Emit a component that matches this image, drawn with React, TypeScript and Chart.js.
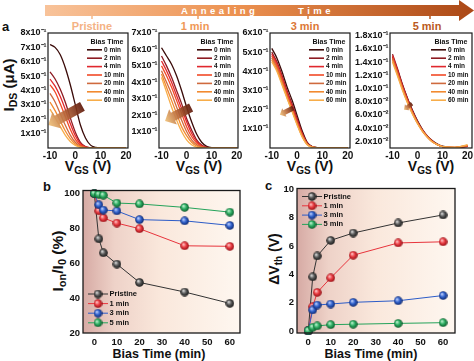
import React, { useEffect, useRef } from 'react';
import { Chart, registerables } from 'chart.js';

Chart.register(...registerables);

const FONT = '"Liberation Sans", Arial, Helvetica, sans-serif';

// ---------------- panel a : transfer curves ----------------
const VGS = [-10, -8, -6, -4, -2, 0, 2, 4, 6, 8, 10, 15, 20];
const BIAS_LABELS = ['0 min', '2 min', '4 min', '10 min', '20 min', '40 min', '60 min'];
const BIAS_COLORS = ['#3a0a08', '#8e1b22', '#e0282e', '#f24a26', '#cf6a3e', '#f28a30', '#f7ad4a'];
const STAGES = ['Pristine', '1 min', '3 min', '5 min'];
const STAGE_COLORS = ['#f4b284', '#ef9856', '#dc7836', '#ba5922'];

const IDS_PRISTINE = [
  [0.72, 0.70, 0.65, 0.56, 0.44, 0.30, 0.16, 0.07, 0.02, 0.005, 0.001, 0, 0],
  [0.53, 0.48, 0.41, 0.32, 0.21, 0.11, 0.04, 0.01, 0.002, 0, 0, 0, 0],
  [0.48, 0.43, 0.36, 0.27, 0.17, 0.085, 0.03, 0.008, 0.001, 0, 0, 0, 0],
  [0.44, 0.39, 0.31, 0.22, 0.13, 0.06, 0.02, 0.005, 0.001, 0, 0, 0, 0],
  [0.38, 0.32, 0.24, 0.16, 0.09, 0.04, 0.012, 0.003, 0, 0, 0, 0, 0],
  [0.32, 0.26, 0.19, 0.12, 0.065, 0.028, 0.008, 0.002, 0, 0, 0, 0, 0],
  [0.27, 0.21, 0.15, 0.09, 0.045, 0.018, 0.005, 0.001, 0, 0, 0, 0, 0],
];
const IDS_1MIN = [
  [0.61, 0.56, 0.51, 0.44, 0.35, 0.25, 0.16, 0.085, 0.035, 0.01, 0.002, 0, 0],
  [0.56, 0.50, 0.43, 0.35, 0.27, 0.18, 0.11, 0.05, 0.018, 0.004, 0, 0, 0],
  [0.53, 0.47, 0.40, 0.32, 0.24, 0.16, 0.09, 0.04, 0.013, 0.003, 0, 0, 0],
  [0.50, 0.44, 0.37, 0.29, 0.21, 0.13, 0.07, 0.03, 0.009, 0.002, 0, 0, 0],
  [0.47, 0.40, 0.33, 0.25, 0.17, 0.10, 0.05, 0.02, 0.005, 0.001, 0, 0, 0],
  [0.45, 0.37, 0.29, 0.21, 0.13, 0.075, 0.035, 0.012, 0.003, 0, 0, 0, 0],
  [0.43, 0.34, 0.25, 0.17, 0.10, 0.05, 0.02, 0.006, 0.001, 0, 0, 0, 0],
];
const IDS_3MIN = [
  [0.52, 0.47, 0.40, 0.32, 0.25, 0.17, 0.09, 0.03, 0.008, 0.002, 0, 0, 0],
  [0.50, 0.45, 0.38, 0.30, 0.23, 0.155, 0.08, 0.026, 0.007, 0.001, 0, 0, 0],
  [0.49, 0.44, 0.37, 0.29, 0.22, 0.145, 0.075, 0.024, 0.006, 0.001, 0, 0, 0],
  [0.48, 0.43, 0.36, 0.28, 0.21, 0.135, 0.07, 0.022, 0.005, 0.001, 0, 0, 0],
  [0.47, 0.42, 0.35, 0.27, 0.20, 0.13, 0.065, 0.02, 0.005, 0.001, 0, 0, 0],
  [0.46, 0.41, 0.34, 0.265, 0.195, 0.125, 0.06, 0.018, 0.004, 0.001, 0, 0, 0],
  [0.45, 0.40, 0.33, 0.26, 0.19, 0.12, 0.058, 0.017, 0.004, 0.001, 0, 0, 0],
];
const IDS_5MIN = [
  [0.148, 0.128, 0.105, 0.085, 0.067, 0.051, 0.038, 0.028, 0.021, 0.016, 0.013, 0.0105, 0.013],
  [0.152, 0.130, 0.106, 0.085, 0.066, 0.050, 0.037, 0.027, 0.020, 0.015, 0.012, 0.0105, 0.012],
  [0.150, 0.127, 0.103, 0.083, 0.065, 0.049, 0.037, 0.027, 0.020, 0.015, 0.012, 0.0105, 0.013],
  [0.147, 0.125, 0.102, 0.082, 0.064, 0.049, 0.036, 0.027, 0.020, 0.015, 0.012, 0.011, 0.013],
  [0.145, 0.123, 0.100, 0.080, 0.063, 0.048, 0.036, 0.026, 0.019, 0.015, 0.012, 0.011, 0.014],
  [0.143, 0.121, 0.099, 0.079, 0.062, 0.047, 0.035, 0.026, 0.019, 0.015, 0.012, 0.011, 0.014],
  [0.140, 0.119, 0.097, 0.078, 0.061, 0.047, 0.035, 0.026, 0.019, 0.015, 0.012, 0.011, 0.015],
];

const VGS_TICKS = [-10, 0, 10, 20];
const IDS_TICKS_PRISTINE = [0.1, 0.2, 0.3, 0.4, 0.5, 0.6, 0.7, 0.8];
const IDS_TICKS_1MIN = [0.1, 0.2, 0.3, 0.4, 0.5, 0.6, 0.7];
const IDS_TICKS_3MIN = [0.1, 0.2, 0.3, 0.4, 0.5, 0.6];
const IDS_TICKS_5MIN = [0.02, 0.04, 0.06, 0.08, 0.1, 0.12, 0.14, 0.16, 0.18];

// trend arrows: [tail V, tail I, tip V, tip I] in data units
const ARROW_PRISTINE = [2.8, 0.29, -10.7, 0.16];
const ARROW_1MIN = [1.8, 0.246, -8.6, 0.165];
const ARROW_3MIN = [-1.5, 0.209, -6.8, 0.174];
const ARROW_5MIN = [-2.2, 0.077, -5.4, 0.068];

// ---------------- panels b and c ----------------
const BIAS_T = [0, 2, 4, 10, 20, 40, 60];
const SAMPLE_LABELS = ['Pristine', '1 min', '3 min', '5 min'];
const ION_PRISTINE = [100, 74, 66, 59.5, 49, 43.5, 37];
const ION_1MIN = [100, 90, 86, 83, 79.8, 70, 69.7];
const ION_3MIN = [100, 93.5, 90.5, 90, 85, 84.3, 81.7];
const ION_5MIN = [100, 99.4, 99, 94.5, 94, 92, 89.3];
const DVTH_PRISTINE = [0, 3.82, 5.3, 6.4, 6.92, 7.63, 8.2];
const DVTH_1MIN = [0, 1.71, 2.72, 3.75, 5.35, 6.22, 6.3];
const DVTH_3MIN = [0, 1.48, 1.83, 1.9, 2.02, 2.13, 2.5];
const DVTH_5MIN = [0.02, 0.25, 0.35, 0.44, 0.47, 0.53, 0.58];
const TIME_TICKS = [0, 10, 20, 30, 40, 50, 60];
const ION_TICKS = [20, 40, 60, 80, 100];
const DVTH_TICKS = [0, 2, 4, 6, 8, 10];

const SAMPLE_LINE = ['#333333', '#e8343c', '#2c5cc8', '#24a35a'];
const SAMPLE_BALL = [
  ['#e6e6e6', '#555555', '#151515'],
  ['#ffd0d0', '#ea3a40', '#8e0d14'],
  ['#c8d8ff', '#2f60cc', '#0e2668'],
  ['#c8f5d6', '#2cae62', '#0b5428'],
];

// ---------------- helpers ----------------
type Box = { L: number; T: number; R: number; B: number; ml: number; mt: number; mr: number; mb: number };

function canvasBox(b: Box) {
  return { left: b.L - b.ml, top: b.T - b.mt, width: b.R - b.L + b.ml + b.mr, height: b.B - b.T + b.mt + b.mb };
}

function axis(isX: boolean, min: number, max: number, ticks: number[], fmt: (v: number) => string, size: number, font: number, pad: number) {
  return {
    type: 'linear',
    min,
    max,
    grid: { display: false, drawTicks: false },
    border: { display: false },
    ticks: {
      autoSkip: false,
      maxRotation: 0,
      minRotation: 0,
      padding: pad,
      color: '#111',
      font: { family: FONT, size: font, weight: 'bold' },
      callback: (v: any) => fmt(Number(v)),
    },
    afterBuildTicks: (s: any) => {
      s.ticks = ticks.map((v) => ({ value: v }));
    },
    afterFit: (s: any) => {
      if (isX) s.height = size;
      else s.width = size;
      s.paddingLeft = 0;
      s.paddingRight = 0;
      s.paddingTop = 0;
      s.paddingBottom = 0;
    },
  };
}

const framePlugin = (lw: number) => ({
  id: 'frame',
  afterDraw(chart: any) {
    const { ctx, chartArea: a } = chart;
    ctx.save();
    ctx.strokeStyle = '#1a1a1a';
    ctx.lineWidth = lw;
    ctx.strokeRect(a.left, a.top, a.right - a.left, a.bottom - a.top);
    ctx.restore();
  },
});

const arrowPlugin = (arrow: number[], w: number) => ({
  id: 'trendArrow',
  afterDatasetsDraw(chart: any) {
    const { ctx } = chart;
    const sx = chart.scales.x;
    const sy = chart.scales.y;
    const ax = sx.getPixelForValue(arrow[0]);
    const ay = sy.getPixelForValue(arrow[1]);
    const bx = sx.getPixelForValue(arrow[2]);
    const by = sy.getPixelForValue(arrow[3]);
    const dx = bx - ax;
    const dy = by - ay;
    const len = Math.hypot(dx, dy);
    const ux = dx / len;
    const uy = dy / len;
    const nx = -uy;
    const ny = ux;
    const hl = w * 1.0;
    const hw = w * 0.95;
    const cx = bx - ux * hl;
    const cy = by - uy * hl;
    ctx.save();
    ctx.beginPath();
    ctx.moveTo(ax + (nx * w) / 2, ay + (ny * w) / 2);
    ctx.lineTo(cx + (nx * w) / 2, cy + (ny * w) / 2);
    ctx.lineTo(cx + nx * hw, cy + ny * hw);
    ctx.lineTo(bx, by);
    ctx.lineTo(cx - nx * hw, cy - ny * hw);
    ctx.lineTo(cx - (nx * w) / 2, cy - (ny * w) / 2);
    ctx.lineTo(ax - (nx * w) / 2, ay - (ny * w) / 2);
    ctx.closePath();
    const g = ctx.createLinearGradient(ax, ay, bx, by);
    g.addColorStop(0, '#5e180a');
    g.addColorStop(0.5, '#b8683a');
    g.addColorStop(1, '#f0c27a');
    ctx.globalAlpha = 0.92;
    ctx.fillStyle = g;
    ctx.fill();
    ctx.restore();
  },
});

const biasLegendPlugin = {
  id: 'biasLegend',
  afterDraw(chart: any) {
    const { ctx, chartArea: a } = chart;
    ctx.save();
    ctx.fillStyle = '#111';
    ctx.textBaseline = 'middle';
    ctx.font = `bold 7px ${FONT}`;
    ctx.textAlign = 'center';
    ctx.fillText('Bias Time', a.right - 21, a.top + 8.7);
    ctx.font = `bold 6.5px ${FONT}`;
    ctx.textAlign = 'left';
    BIAS_LABELS.forEach((lab, i) => {
      const y = a.top + 16.8 + i * 8.4;
      ctx.strokeStyle = BIAS_COLORS[i];
      ctx.lineWidth = 1.6;
      ctx.beginPath();
      ctx.moveTo(a.right - 41, y);
      ctx.lineTo(a.right - 26, y);
      ctx.stroke();
      ctx.fillText(lab, a.right - 24, y);
    });
    ctx.restore();
  },
};

const bgPlugin = {
  id: 'bg',
  beforeDraw(chart: any) {
    const { ctx, chartArea: a } = chart;
    ctx.save();
    const g = ctx.createLinearGradient(a.left, 0, a.right, 0);
    g.addColorStop(0, 'rgb(214,170,164)');
    g.addColorStop(0.2, 'rgb(238,210,200)');
    g.addColorStop(0.5, 'rgb(250,232,220)');
    g.addColorStop(1, 'rgb(254,247,240)');
    ctx.fillStyle = g;
    ctx.fillRect(a.left, a.top, a.right - a.left, a.bottom - a.top);
    ctx.restore();
  },
};

const ballLegendPlugin = (balls: HTMLCanvasElement[], atBottom: boolean, step: number, offset: number) => ({
  id: 'ballLegend',
  afterDraw(chart: any) {
    const { ctx, chartArea: a } = chart;
    ctx.save();
    ctx.font = `bold 7.5px ${FONT}`;
    ctx.textBaseline = 'middle';
    ctx.textAlign = 'left';
    ctx.fillStyle = '#111';
    SAMPLE_LABELS.forEach((lab, i) => {
      const y = atBottom ? a.bottom - offset + i * step : a.top + offset + i * step;
      ctx.strokeStyle = SAMPLE_LINE[i];
      ctx.lineWidth = 1;
      ctx.beginPath();
      ctx.moveTo(a.left + 5, y);
      ctx.lineTo(a.left + 25, y);
      ctx.stroke();
      const b = balls[i];
      ctx.drawImage(b, a.left + 15 - b.width / 2, y - b.height / 2);
      ctx.fillText(lab, a.left + 26.5, y);
    });
    ctx.restore();
  },
});

function makeBall(c: string[], d = 9) {
  const cv = document.createElement('canvas');
  cv.width = d;
  cv.height = d;
  const g = cv.getContext('2d')!;
  const r = d / 2;
  const grad = g.createRadialGradient(r - 1.4, r - 1.6, 0.2, r, r, r);
  grad.addColorStop(0, c[0]);
  grad.addColorStop(0.5, c[1]);
  grad.addColorStop(1, c[2]);
  g.fillStyle = grad;
  g.beginPath();
  g.arc(r, r, r - 0.2, 0, Math.PI * 2);
  g.fill();
  return cv;
}

// ---------------- layout ----------------
const A_PANELS = [
  { data: IDS_PRISTINE, box: { L: 48, T: 33, R: 128, B: 148, ml: 32, mt: 4, mr: 6, mb: 16 }, x: [-10.8, 20.8], y: [0, 0.8], ticks: IDS_TICKS_PRISTINE, dec: false, arrow: ARROW_PRISTINE, aw: 10 },
  { data: IDS_1MIN, box: { L: 159, T: 33, R: 238, B: 148, ml: 32, mt: 4, mr: 6, mb: 16 }, x: [-11, 20.5], y: [0, 0.7], ticks: IDS_TICKS_1MIN, dec: false, arrow: ARROW_1MIN, aw: 9 },
  { data: IDS_3MIN, box: { L: 270, T: 33, R: 350, B: 148, ml: 32, mt: 4, mr: 6, mb: 16 }, x: [-10.7, 20.9], y: [0, 0.6], ticks: IDS_TICKS_3MIN, dec: false, arrow: ARROW_3MIN, aw: 5 },
  { data: IDS_5MIN, box: { L: 390, T: 33, R: 472, B: 148, ml: 38, mt: 4, mr: 4, mb: 16 }, x: [-11, 21.8], y: [0.01, 0.184], ticks: IDS_TICKS_5MIN, dec: true, arrow: ARROW_5MIN, aw: 4 },
];
const BOX_B: Box = { L: 83, T: 190, R: 240, B: 333, ml: 30, mt: 5, mr: 8, mb: 18 };
const BOX_C: Box = { L: 297, T: 188, R: 455, B: 333, ml: 24, mt: 5, mr: 8, mb: 18 };

function sciFmt(dec: boolean) {
  return (v: number) => {
    if (dec) {
      if (v < 0.0999) return `${(v * 100).toFixed(1)}x10⁻²`;
      return `${(v * 10).toFixed(1)}x10⁻¹`;
    }
    return `${Math.round(v * 10)}x10⁻¹`;
  };
}

function transferConfig(p: any): any {
  const b = p.box;
  return {
    type: 'line',
    data: {
      datasets: p.data.map((ser: number[], i: number) => ({
        label: BIAS_LABELS[i],
        data: ser.map((y, k) => ({ x: VGS[k], y })),
        borderColor: BIAS_COLORS[i],
        borderWidth: 1.3,
        pointRadius: 0,
        fill: false,
        cubicInterpolationMode: 'monotone',
        order: 6 - i,
      })),
    },
    options: {
      responsive: false,
      animation: false,
      devicePixelRatio: 1,
      events: [],
      layout: { padding: { left: 0, top: b.mt, right: b.mr, bottom: 0 } },
      plugins: { legend: { display: false }, tooltip: { enabled: false }, title: { display: false } },
      scales: {
        x: axis(true, p.x[0], p.x[1], VGS_TICKS, (v) => String(v), b.mb, 10, 2),
        y: axis(false, p.y[0], p.y[1], p.ticks, sciFmt(p.dec), b.ml, 9, 1.5),
      },
    },
    plugins: [arrowPlugin(p.arrow, p.aw), biasLegendPlugin, framePlugin(1.2)],
  };
}

function biasConfig(box: Box, xr: number[], series: number[][], y: number[], yTicks: number[], balls: HTMLCanvasElement[], legendBottom: boolean): any {
  return {
    type: 'line',
    data: {
      datasets: series.map((ser, i) => ({
        label: SAMPLE_LABELS[i],
        data: ser.map((v, k) => ({ x: BIAS_T[k], y: v })),
        borderColor: SAMPLE_LINE[i],
        borderWidth: 1,
        pointStyle: balls[i],
        pointRadius: 4.5,
        tension: 0,
        fill: false,
        clip: false,
        order: 3 - i,
      })),
    },
    options: {
      responsive: false,
      animation: false,
      devicePixelRatio: 1,
      events: [],
      layout: { padding: { left: 0, top: box.mt, right: box.mr, bottom: 0 } },
      plugins: { legend: { display: false }, tooltip: { enabled: false }, title: { display: false } },
      scales: {
        x: axis(true, xr[0], xr[1], TIME_TICKS, (v) => String(v), box.mb, 9.5, 4),
        y: axis(false, y[0], y[1], yTicks, (v) => String(v), box.ml, 9.5, 3),
      },
    },
    plugins: [
      bgPlugin,
      legendBottom ? ballLegendPlugin(balls, true, 9.6, 39) : ballLegendPlugin(balls, false, 9.3, 8),
      framePlugin(1.3),
    ],
  };
}

export default function App() {
  const r0 = useRef<HTMLCanvasElement>(null);
  const r1 = useRef<HTMLCanvasElement>(null);
  const r2 = useRef<HTMLCanvasElement>(null);
  const r3 = useRef<HTMLCanvasElement>(null);
  const rb = useRef<HTMLCanvasElement>(null);
  const rc = useRef<HTMLCanvasElement>(null);
  const aRefs = [r0, r1, r2, r3];

  useEffect(() => {
    const balls = SAMPLE_BALL.map((c) => makeBall(c));
    const charts: Chart[] = [];
    A_PANELS.forEach((p, i) => {
      charts.push(new Chart(aRefs[i].current!, transferConfig(p)));
    });
    charts.push(new Chart(rb.current!, biasConfig(BOX_B, [-5, 64.5], [ION_PRISTINE, ION_1MIN, ION_3MIN, ION_5MIN], [20, 101.7], ION_TICKS, balls, true)));
    charts.push(new Chart(rc.current!, biasConfig(BOX_C, [-5, 65.3], [DVTH_PRISTINE, DVTH_1MIN, DVTH_3MIN, DVTH_5MIN], [-0.15, 10.07], DVTH_TICKS, balls, false)));
    return () => charts.forEach((c) => c.destroy());
  }, []);

  const canvasStyle = (b: Box): React.CSSProperties => {
    const c = canvasBox(b);
    return { position: 'absolute', left: c.left, top: c.top, width: c.width, height: c.height };
  };
  const bold = { fontFamily: FONT, fontWeight: 700 } as any;
  const stageTitleX = [92, 195, 305, 427];
  const stageTickX = [92, 198, 308, 430];
  const vgsTitleX = [88, 199, 310, 431];

  return (
    <div style={{ position: 'absolute', left: 0, top: 0, width: 474, height: 361, background: '#fff', overflow: 'hidden' }}>
      <svg width={474} height={361} style={{ position: 'absolute', left: 0, top: 0 }}>
        <defs>
          <linearGradient id="ann" gradientUnits="userSpaceOnUse" x1="45" y1="0" x2="474" y2="0">
            <stop offset="0" stopColor="#f8c39a" />
            <stop offset="0.45" stopColor="#ec9150" />
            <stop offset="1" stopColor="#ab4816" />
          </linearGradient>
        </defs>
        <rect x={45} y={5} width={415} height={11} fill="url(#ann)" />
        <polygon points="459,0 474,10.5 459,21" fill="url(#ann)" />
        {stageTickX.map((x, i) => (
          <line key={i} x1={x} y1={15} x2={x} y2={19} stroke="url(#ann)" strokeWidth={1.5} />
        ))}
        <text x={181} y={14.3} fill="#fff" fontSize={9.5} letterSpacing={3.5} {...bold}>Annealing</text>
        <text x={298} y={14.3} fill="#fff" fontSize={9.5} letterSpacing={3.5} {...bold}>Time</text>
        {STAGES.map((s, i) => (
          <text key={s} x={stageTitleX[i]} y={29.5} textAnchor="middle" fontSize={11} fill={STAGE_COLORS[i]} {...bold}>{s}</text>
        ))}
        <text x={2} y={30.5} fontSize={13} fill="#111" {...bold}>a</text>
        <text x={43} y={190.5} fontSize={13} fill="#111" {...bold}>b</text>
        <text x={265} y={190} fontSize={13} fill="#111" {...bold}>c</text>
        <text transform="translate(14,85) rotate(-90)" textAnchor="middle" fontSize={15} fill="#111" {...bold}>
          I<tspan fontSize={10.5} dy={3}>DS</tspan><tspan dy={-3}> (μA)</tspan>
        </text>
        {vgsTitleX.map((x, i) => (
          <text key={i} x={x} y={171} textAnchor="middle" fontSize={14} fill="#111" {...bold}>
            V<tspan fontSize={10} dy={3}>GS</tspan><tspan dy={-3}> (V)</tspan>
          </text>
        ))}
        <text transform="translate(63,261) rotate(-90)" textAnchor="middle" fontSize={15.5} fill="#111" {...bold}>
          I<tspan fontSize={11} dy={3}>on</tspan><tspan dy={-3}>/I</tspan><tspan fontSize={11} dy={3}>0</tspan><tspan dy={-3}> (%)</tspan>
        </text>
        <text transform="translate(279,259) rotate(-90)" textAnchor="middle" fontSize={14} fill="#111" {...bold}>
          ΔV<tspan fontSize={10} dy={3}>th</tspan><tspan dy={-3}> (V)</tspan>
        </text>
        <text x={159} y={357.5} textAnchor="middle" fontSize={12.5} fill="#111" {...bold}>Bias Time (min)</text>
        <text x={371} y={357.5} textAnchor="middle" fontSize={12.5} fill="#111" {...bold}>Bias Time (min)</text>
      </svg>
      {A_PANELS.map((p, i) => {
        const c = canvasBox(p.box);
        return <canvas key={i} ref={aRefs[i]} width={c.width} height={c.height} style={canvasStyle(p.box)} />;
      })}
      <canvas ref={rb} width={canvasBox(BOX_B).width} height={canvasBox(BOX_B).height} style={canvasStyle(BOX_B)} />
      <canvas ref={rc} width={canvasBox(BOX_C).width} height={canvasBox(BOX_C).height} style={canvasStyle(BOX_C)} />
    </div>
  );
}
